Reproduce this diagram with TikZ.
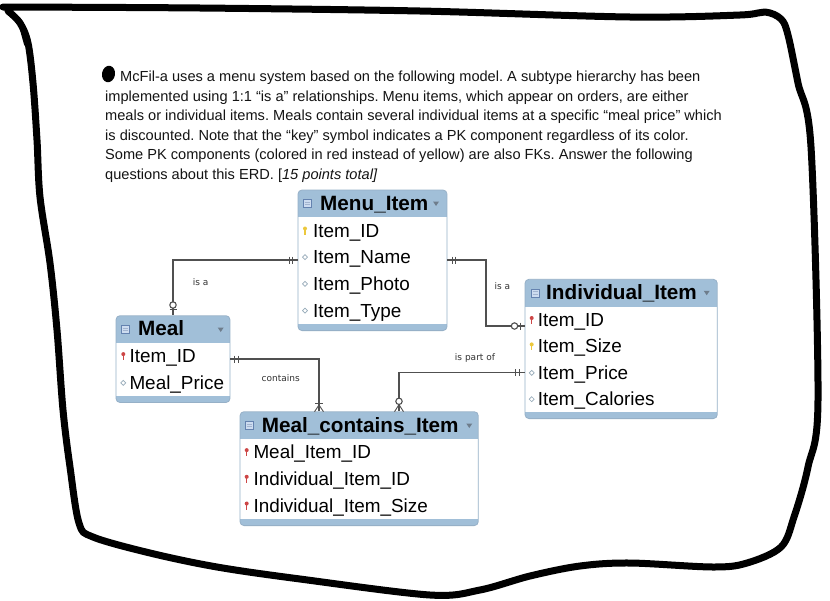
\documentclass[tikz,border=0pt]{standalone}
\usepackage{fontspec}
\setmainfont{Liberation Sans}
\newfontfamily\lblfont{DejaVu Sans}
\usetikzlibrary{fit,calc}
\definecolor{hdrblue}{RGB}{161,191,216}
\definecolor{tframec}{RGB}{150,176,199}
\definecolor{connc}{RGB}{80,80,80}
\definecolor{keyyellow}{RGB}{236,200,60}
\definecolor{keyred}{RGB}{205,70,70}
\definecolor{diamc}{RGB}{150,170,185}
\definecolor{tricol}{RGB}{110,125,140}
\definecolor{iconfill}{RGB}{205,220,240}
\definecolor{icondraw}{RGB}{100,130,175}

\tikzset{
  tframe/.style={draw=tframec, line width=0.8pt, rounded corners=4pt, inner sep=0pt},
  ttitle/.style={font=\fontsize{20.7}{24}\selectfont\bfseries, anchor=base west, inner sep=0pt},
  trow/.style={font=\fontsize{18.9}{22}\selectfont, anchor=base west, inner sep=0pt},
  para/.style={font=\fontsize{14.6}{17}\selectfont\frenchspacing, anchor=base west, inner sep=0pt, text=black!92},
  lbl/.style={font=\lblfont\fontsize{9}{11}\selectfont, text=black!80, inner sep=0pt},
  conn/.style={draw=connc, line width=1.1pt},
  tick/.style={draw=connc, line width=0.9pt},
  border/.style={line width=7pt, line cap=round, line join=round},
}

% name, x1, y1, x2, y2, header bottom, strip top
\newcommand{\erdtable}[7]{%
  \begin{scope}
    \clip[rounded corners=4pt] (#2,#3) rectangle (#4,#5);
    \fill[white] (#2,#3) rectangle (#4,#5);
    \fill[hdrblue] (#2,#3) rectangle (#4,#6);
    \fill[hdrblue] (#2,#7) rectangle (#4,#5);
  \end{scope}
  \node[tframe, fit={(#2,#3)(#4,#5)}] (#1) {};
}
\newcommand{\tblicon}[2]{%
  \filldraw[fill=iconfill, draw=icondraw, line width=0.6pt] (#1-4,#2-4) rectangle (#1+4,#2+4);
  \draw[icondraw!60, line width=0.4pt] (#1-2.5,#2-1.5) -- (#1+2.5,#2-1.5) (#1-2.5,#2+1) -- (#1+2.5,#2+1);}
\newcommand{\ddtri}[2]{\fill[tricol] (#1-3,#2-2) -- (#1+3,#2-2) -- (#1,#2+2.5) -- cycle;}
\newcommand{\keyicon}[3]{%
  \fill[#1] (#2,#3-2) circle (2pt);
  \fill[#1] (#2-0.75,#3-2) rectangle (#2+0.75,#3+4);}
\newcommand{\diam}[2]{%
  \filldraw[fill=white, draw=diamc, line width=0.7pt] (#1-2.5,#2) -- (#1,#2-2.5) -- (#1+2.5,#2) -- (#1,#2+2.5) -- cycle;}

\begin{document}
\begin{tikzpicture}[x=1pt, y=-1pt]
\useasboundingbox (0,0) rectangle (830,600);
\fill[white] (0,0) rectangle (830,600);

% hand-drawn border
\draw[border] plot[smooth, tension=0.55] coordinates {
  (3,7) (200,8) (420,11) (630,17) (740,15) (765,12) (781,19) (788,35)
  (798,83) (811,147) (818,400) (808,467) (794,517) (781,547) (747,563)
  (713,567) (630,563) (580,566) (530,576) (480,590) (430,595) (300,579)
  (217,567) (150,553) (93,537) (79,523) (70,467) (63,410) (57,330)
  (50,263) (40,197) (37,140) (33,83) (28,43) (20,23) (8,11)};
\draw[line width=6pt, line cap=round] (22,26) -- (27,44);

% paragraph
\fill[black, rotate around={-10:(108.5,74)}] (108.5,74) ellipse (6.5pt and 8.3pt);
\node[para] (t1) at (120,81.5) {McFil-a uses a menu system based on the following model. A subtype hierarchy has been};
\node[para] (t2) at (105,101) {implemented using 1:1 “is a” relationships. Menu items, which appear on orders, are either};
\node[para] (t3) at (105,120.5) {meals or individual items. Meals contain several individual items at a specific “meal price” which};
\node[para] (t4) at (105,140) {is discounted. Note that the “key” symbol indicates a PK component regardless of its color.};
\node[para] (t5) at (105,159.5) {Some PK components (colored in red instead of yellow) are also FKs. Answer the following};
\node[para] (t6) at (105,179) {questions about this ERD. [\textit{15 points total]}};

% ---------- Menu_Item ----------
\erdtable{menu}{298}{190}{447}{330.6}{217}{324.1}
\tblicon{307}{203.5}
\node[ttitle] (menu-t) at (320,210) {Menu\_Item};
\ddtri{436}{203.5}
\keyicon{keyyellow}{305}{230.5}
\diam{305}{257.2}
\diam{305}{283.9}
\diam{305}{310.6}
\node[trow] (menu-r1) at (313,237) {Item\_ID};
\node[trow] (menu-r2) at (313,263.7) {Item\_Name};
\node[trow] (menu-r3) at (313,290.4) {Item\_Photo};
\node[trow] (menu-r4) at (313,317.1) {Item\_Type};

% ---------- Meal ----------
\erdtable{meal}{116}{315.7}{230}{402.5}{343}{396}
\tblicon{125}{329.5}
\node[ttitle] (meal-t) at (138,335.9) {Meal};
\ddtri{220.7}{329.5}
\keyicon{keyred}{123.3}{356.1}
\diam{123.3}{382.8}
\node[trow] (meal-r1) at (129.3,362.6) {Item\_ID};
\node[trow] (meal-r2) at (129.3,389.3) {Meal\_Price};

% ---------- Individual_Item ----------
\erdtable{ind}{525}{279.3}{717.3}{418.6}{306.7}{412}
\tblicon{535}{292.8}
\node[ttitle] (ind-t) at (546,299.2) {Individual\_Item};
\ddtri{706.7}{292.8}
\keyicon{keyred}{531.7}{320}
\keyicon{keyyellow}{531.7}{346.4}
\diam{531.7}{372.8}
\diam{531.7}{399.2}
\node[trow] (ind-r1) at (537.7,326.5) {Item\_ID};
\node[trow] (ind-r2) at (537.7,352.9) {Item\_Size};
\node[trow] (ind-r3) at (537.7,379.3) {Item\_Price};
\node[trow] (ind-r4) at (537.7,405.7) {Item\_Calories};

% ---------- Meal_contains_Item ----------
\erdtable{mci}{240}{411.7}{478.3}{525.6}{439}{519}
\tblicon{249}{425.5}
\node[ttitle] (mci-t) at (261.7,432.4) {Meal\_contains\_Item};
\ddtri{469.3}{425.5}
\keyicon{keyred}{246.7}{452.1}
\keyicon{keyred}{246.7}{478.8}
\keyicon{keyred}{246.7}{505.5}
\node[trow] (mci-r1) at (253.3,458.6) {Meal\_Item\_ID};
\node[trow] (mci-r2) at (253.3,485.3) {Individual\_Item\_ID};
\node[trow] (mci-r3) at (253.3,512) {Individual\_Item\_Size};

% ---------- connectors ----------
% Menu_Item -- Meal (is a)
\draw[conn] (menu.west |- 0,260) -| (meal.north);
\draw[tick] (289,256.5) -- (289,263.5) (292.5,256.5) -- (292.5,263.5);
\draw[conn, fill=white] (173,305) circle (3.2pt);
\draw[tick] (169.5,309.7) -- (176.5,309.7);
\node[lbl] (l1) at (200.7,281.7) {is a};

% Menu_Item -- Individual_Item (is a)
\draw[conn] (menu.east |- 0,260) -- (486,260) |- (ind.west |- 0,326);
\draw[tick] (452,256.5) -- (452,263.5) (455.5,256.5) -- (455.5,263.5);
\draw[conn, fill=white] (514.5,326) circle (3.2pt);
\draw[tick] (520,322.5) -- (520,329.5);
\node[lbl] (l2) at (502.3,285.7) {is a};

% Meal -- Meal_contains_Item (contains)
\draw[conn] (meal.east |- 0,359) -| (mci.north -| 319,0);
\draw[tick] (234.5,355.5) -- (234.5,362.5) (238,355.5) -- (238,362.5);
\draw[tick] (315,403) -- (323,403);
\draw[tick] (314.5,411.7) -- (319,405) -- (323.5,411.7);
\node[lbl] (l3) at (280.7,377.7) {contains};

% Individual_Item -- Meal_contains_Item (is part of)
\draw[conn] (ind.west |- 0,372.7) -| (mci.north -| 399,0);
\draw[tick] (515.5,369.2) -- (515.5,376.2) (519,369.2) -- (519,376.2);
\draw[conn, fill=white] (399,401.3) circle (3.2pt);
\draw[tick] (394.5,411.7) -- (399,404.6) -- (403.5,411.7);
\node[lbl] (l4) at (475,358.3) {is part of};
\end{tikzpicture}
\end{document}
